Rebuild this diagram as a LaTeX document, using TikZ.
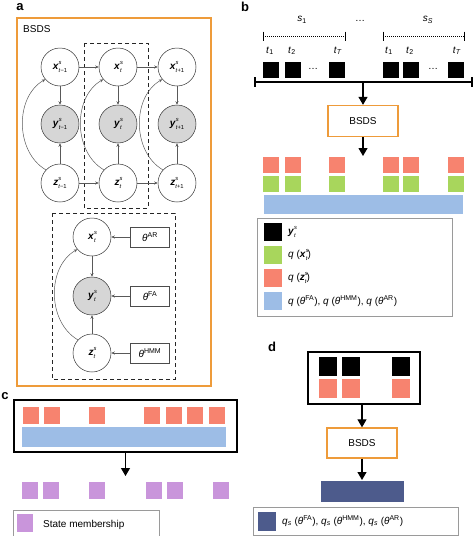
\documentclass[tikz,border=0pt]{standalone}
\usepackage{fontspec}
\setmainfont{Liberation Sans}
\usetikzlibrary{arrows.meta}
\definecolor{borange}{HTML}{EE9B3A}
\definecolor{obsgray}{HTML}{D6D6D6}
\definecolor{qred}{HTML}{F7836F}
\definecolor{qgreen}{HTML}{A8D65C}
\definecolor{qblue}{HTML}{9DBDE6}
\definecolor{qpurple}{HTML}{C995DB}
\definecolor{qnavy}{HTML}{4D5B8C}
\definecolor{leggray}{HTML}{9A9A9A}
\newcommand{\mysps}[2]{\rlap{\raisebox{4.7pt}{\fontsize{5.8}{6}\selectfont #1}}\raisebox{-2.6pt}{\fontsize{5.8}{6}\selectfont #2}}
\newcommand{\bvar}[2]{\textbf{\textit{#1}}\mysps{\textit{s}}{#2}}
\newcommand{\thet}[1]{\textit{θ}\textsuperscript{#1}}
\begin{document}
\begin{tikzpicture}[x=1pt,y=1pt,
 var/.style={circle,draw=black!80,line width=0.5pt,minimum size=38pt,inner sep=0pt,fill=white,font=\fontsize{10}{11}\selectfont},
 obs/.style={var,fill=obsgray},
 parbox/.style={draw=black!70,line width=0.5pt,minimum width=39pt,minimum height=20pt,inner sep=0pt,font=\fontsize{10}{11}\selectfont},
 edge/.style={draw=black!65,line width=0.5pt,-{Stealth[length=3.5pt,width=3pt]}},
 dbox/.style={draw=black!85,line width=0.9pt,dash pattern=on 4pt off 3pt},
 flow/.style={draw=black,line width=1.1pt,-{Triangle[length=8pt,width=9pt]}},
 bsds/.style={draw=borange,line width=1.3pt,fill=white,minimum width=70pt,minimum height=31pt,inner sep=0pt,font=\fontsize{10}{11}\selectfont},
 lbl/.style={font=\bfseries\fontsize{13}{14}\selectfont,inner sep=0pt},
 txt/.style={font=\fontsize{10}{11}\selectfont,inner sep=0pt},
 legbox/.style={draw=leggray,line width=0.8pt},
 blk/.style={draw=black,line width=1.3pt},
]
\useasboundingbox (0,0) rectangle (474,-536);

% ---------------- panel a ----------------
\node[lbl] (la) at (20,-7) {a};
\draw[borange,line width=1.6pt] (17,-18) rectangle (211,-386);
\node[txt,anchor=west] (tbsdsa) at (23,-29) {BSDS};
\draw[dbox] (84,-43) rectangle (148,-208);
\draw[dbox] (52,-213) rectangle (175,-379);

\node[var] (x1) at (60,-67) {\bvar{x}{\textit{t}−1}};
\node[var] (x2) at (118,-67) {\bvar{x}{\textit{t}}};
\node[var] (x3) at (177,-67) {\bvar{x}{\textit{t}+1}};
\node[obs] (y1) at (60,-124) {\bvar{y}{\textit{t}−1}};
\node[obs] (y2) at (118,-124) {\bvar{y}{\textit{t}}};
\node[obs] (y3) at (177,-124) {\bvar{y}{\textit{t}+1}};
\node[var] (z1) at (60,-183) {\bvar{z}{\textit{t}−1}};
\node[var] (z2) at (118,-183) {\bvar{z}{\textit{t}}};
\node[var] (z3) at (177,-183) {\bvar{z}{\textit{t}+1}};

\draw[edge] (x1) -- (x2);
\draw[edge] (x2) -- (x3);
\draw[edge] (z1) -- (z2);
\draw[edge] (z2) -- (z3);
\foreach \i in {1,2,3}{
  \draw[edge] (x\i) -- (y\i);
  \draw[edge] (z\i) -- (y\i);
  \draw[edge] (z\i.137) to[out=150,in=210] (x\i.220);
}

\node[var] (X) at (92,-237) {\bvar{x}{\textit{t}}};
\node[obs] (Y) at (92,-296) {\bvar{y}{\textit{t}}};
\node[var] (Z) at (92,-353) {\bvar{z}{\textit{t}}};
\node[parbox] (tAR) at (150,-237) {\thet{AR}};
\node[parbox] (tFA) at (150,-296) {\thet{FA}};
\node[parbox] (tHMM) at (150,-353) {\thet{HMM}};
\draw[edge] (X) -- (Y);
\draw[edge] (Z) -- (Y);
\draw[edge] (Z.137) to[out=150,in=210] (X.220);
\draw[edge] (tAR) -- (X);
\draw[edge] (tFA) -- (Y);
\draw[edge] (tHMM) -- (Z);

% ---------------- panel b ----------------
\node[lbl] (lb) at (245,-7) {b};
\node[txt] (s1) at (302,-20) {\textit{s}\textsubscript{1}};
\node[txt] (sdots) at (360,-21) {\ldots};
\node[txt] (sS) at (428,-20) {\textit{s}\textsubscript{\textit{S}}};
\draw[line width=0.9pt,dash pattern=on 0.9pt off 1.1pt] (263,-36) -- (345,-36);
\draw[line width=0.8pt] (263,-31.5) -- (263,-40.5) (345,-31.5) -- (345,-40.5);
\draw[line width=0.9pt,dash pattern=on 0.9pt off 1.1pt] (383,-36) -- (464,-36);
\draw[line width=0.8pt] (383,-31.5) -- (383,-40.5) (464,-31.5) -- (464,-40.5);
\foreach \xx/\tt in {270/1,292/2,338/\textit{T},389/1,410/2,457/\textit{T}}{
  \node[txt] at (\xx,-51) {\textit{t}\textsubscript{\tt}};
}
\foreach \xx in {263,285,329,383,403,448}{
  \fill[black] (\xx,-62) rectangle ++(16,-15.5);
  \fill[qred] (\xx,-157) rectangle ++(16,-16);
  \fill[qgreen] (\xx,-176) rectangle ++(16,-15.5);
}
\node[txt] (d1) at (313,-69) {\ldots};
\node[txt] (d2) at (433,-69) {\ldots};
\draw[line width=1.1pt] (255,-82) -- (472,-82);
\draw[line width=1.1pt] (255,-77) -- (255,-87) (472,-77) -- (472,-87);
\coordinate (bm) at (363,-82);
\node[bsds] (bb) at (363,-121) {BSDS};
\coordinate (bo) at (363,-156);
\draw[flow] (bm) -- (bb.north);
\draw[flow] (bb.south) -- (bo);
\fill[qblue] (264,-195) rectangle (463,-214);

\draw[legbox] (257,-218) rectangle (452,-316);
\fill[black] (264,-223) rectangle (282,-241);
\fill[qgreen] (264,-246) rectangle (282,-264);
\fill[qred] (264,-269) rectangle (282,-287);
\fill[qblue] (264,-292) rectangle (282,-310);
\node[txt,anchor=west] (lg1) at (288,-232) {\bvar{y}{\textit{t}}};
\node[txt,anchor=west] (lg2) at (288,-255) {\textit{q} (\bvar{x}{\textit{t}})};
\node[txt,anchor=west] (lg3) at (288,-278) {\textit{q} (\bvar{z}{\textit{t}})};
\node[txt,anchor=west] (lg4) at (288,-301) {\textit{q} (\thet{FA}), \textit{q} (\thet{HMM}), \textit{q} (\thet{AR})};

% ---------------- panel c ----------------
\node[lbl] (lc) at (5,-396) {c};
\node[blk,minimum width=223pt,minimum height=52pt,inner sep=0pt] (cbox) at (125.5,-426) {};
\foreach \xx in {23,44,89,144,166,187,209}{
  \fill[qred] (\xx,-407) rectangle ++(16,-17);
}
\fill[qblue] (22,-427) rectangle (226,-447);
\coordinate (cend) at (125.5,-476);
\draw[flow] (cbox.south) -- (cend);
\foreach \xx in {22,43,89,146,167,213}{
  \fill[qpurple] (\xx,-482) rectangle ++(16,-17);
}
\draw[legbox] (13,-538) -- (13,-510) -- (159,-510) -- (159,-538);
\fill[qpurple] (17,-514) rectangle (33,-532);
\node[txt,anchor=west] (lgc) at (43,-525) {State membership};

% ---------------- panel d ----------------
\node[lbl] (ld) at (272,-347) {d};
\node[blk,minimum width=112pt,minimum height=52pt,inner sep=0pt] (dbx) at (364,-378) {};
\foreach \xx in {319,342,392}{
  \fill[black] (\xx,-357) rectangle ++(17.5,-19);
  \fill[qred] (\xx,-379) rectangle ++(17.5,-19);
}
\node[bsds,minimum height=30pt] (db) at (362,-443) {BSDS};
\draw[flow] (dbx.south -| db.north) -- (db.north);
\coordinate (dend) at (362,-480);
\draw[flow] (db.south) -- (dend);
\fill[qnavy] (321,-481) rectangle (404,-502);
\draw[legbox] (253,-507) rectangle (458,-535);
\fill[qnavy] (258,-512) rectangle (276,-531);
\node[txt,anchor=west] (lgd) at (282,-521) {\textit{q}\textsubscript{\textit{s}} (\thet{FA}), \textit{q}\textsubscript{\textit{s}} (\thet{HMM}), \textit{q}\textsubscript{\textit{s}} (\thet{AR})};
\end{tikzpicture}
\end{document}
